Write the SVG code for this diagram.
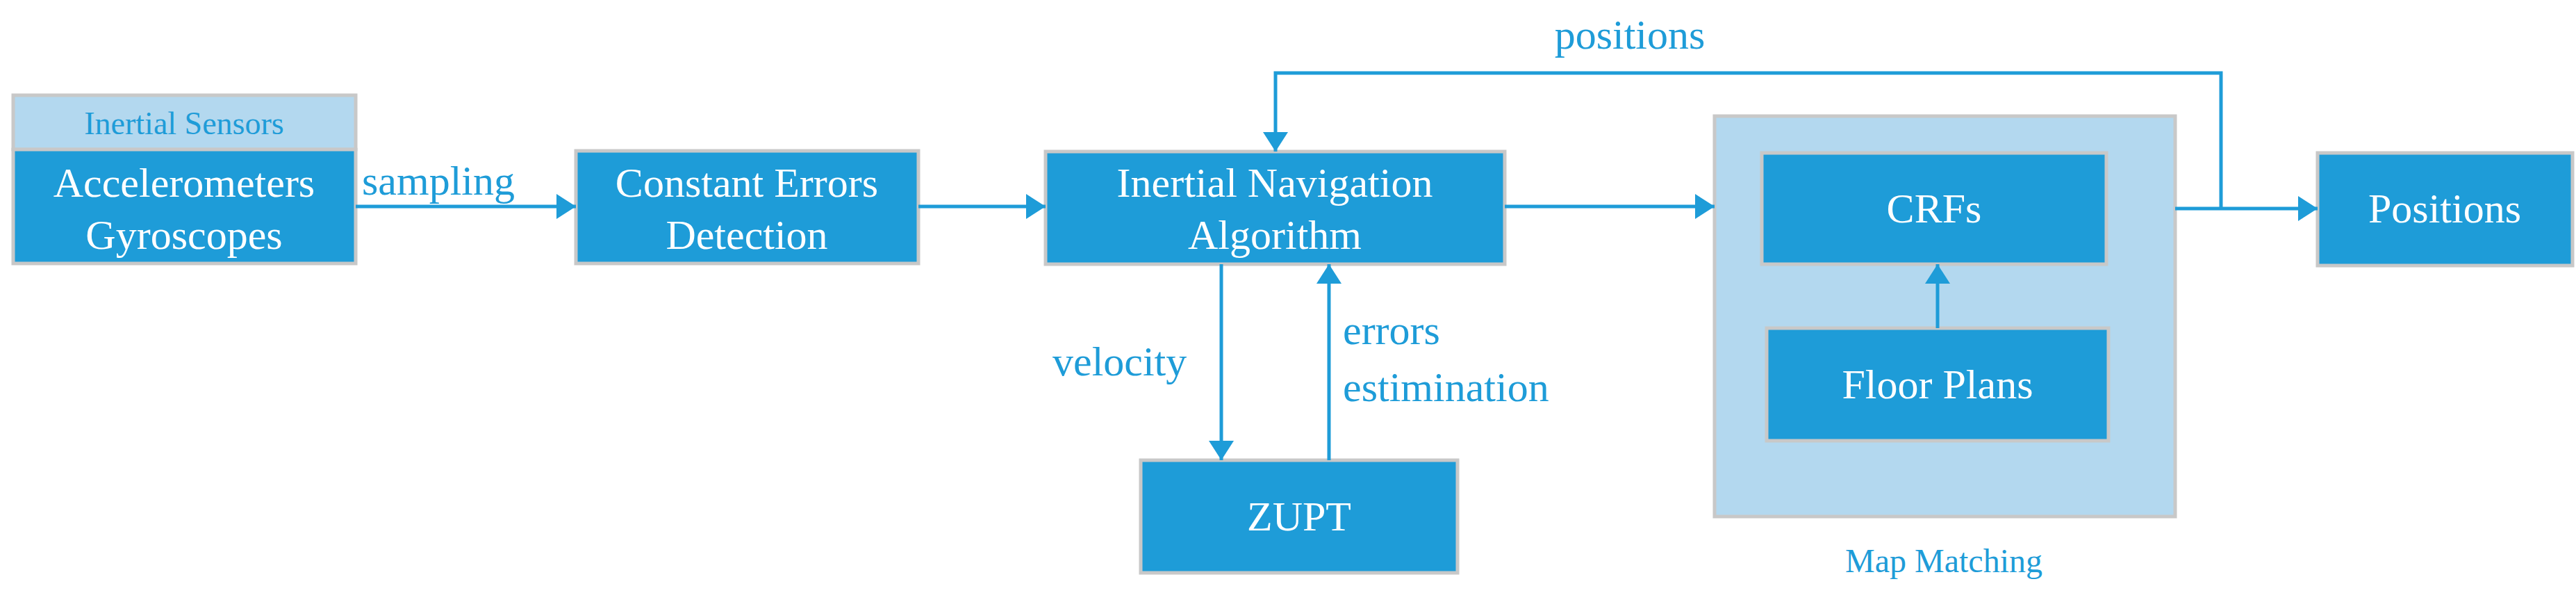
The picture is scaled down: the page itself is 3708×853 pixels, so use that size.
<svg xmlns="http://www.w3.org/2000/svg" width="3708" height="853" viewBox="0 0 3708 853">
<defs>
<style>
.b{fill:#1E9CD8;stroke:#C8C8C8;stroke-width:5}
.l{fill:#B3D8EF;stroke:#C8C8C8;stroke-width:5}
.t{font-family:"Liberation Serif",serif;font-size:60px;fill:#fff;text-anchor:middle}
.c{font-family:"Liberation Serif",serif;font-size:60px;fill:#1E9CD8}
.e{fill:none;stroke:#1E9CD8;stroke-width:5}
</style>
<marker id="a" markerWidth="10" markerHeight="10" refX="10" refY="5" orient="auto" markerUnits="userSpaceOnUse" viewBox="0 0 10 10"><path d="M0,0L10,5L0,10z" fill="#1E9CD8"/></marker>
<marker id="m" viewBox="0 0 10 10" refX="10" refY="5" markerWidth="28" markerHeight="36" orient="auto" markerUnits="userSpaceOnUse" preserveAspectRatio="none"><path d="M0,0L10,5L0,10z" fill="#1E9CD8"/></marker>
</defs>
<g id="sensors">
<rect class="l" x="19" y="137" width="493" height="78"/>
<text x="265" y="193" font-family="Liberation Serif,serif" font-size="46" fill="#1E9CD8" text-anchor="middle">Inertial Sensors</text>
<rect class="b" x="19" y="215" width="493" height="164"/>
<text class="t" x="265" y="283">Accelerometers</text>
<text class="t" x="265" y="358">Gyroscopes</text>
</g>
<g id="ced">
<rect class="b" x="829" y="217" width="493" height="162"/>
<text class="t" x="1075" y="283">Constant Errors</text>
<text class="t" x="1075" y="358">Detection</text>
</g>
<g id="ina">
<rect class="b" x="1505" y="218" width="661" height="162"/>
<text class="t" x="1835" y="283">Inertial Navigation</text>
<text class="t" x="1835" y="358">Algorithm</text>
</g>
<g id="zupt">
<rect class="b" x="1642" y="662" width="456" height="162"/>
<text class="t" x="1870" y="763">ZUPT</text>
</g>
<g id="mm">
<rect class="l" x="2468" y="167" width="663" height="576"/>
<text x="2798" y="823" font-family="Liberation Serif,serif" font-size="48" fill="#1E9CD8" text-anchor="middle">Map Matching</text>
</g>
<g id="crfs">
<rect class="b" x="2536" y="220" width="496" height="160"/>
<text class="t" x="2784" y="320">CRFs</text>
</g>
<g id="floor">
<rect class="b" x="2543" y="472" width="492" height="162"/>
<text class="t" x="2789" y="573">Floor Plans</text>
</g>
<g id="positions">
<rect class="b" x="3336" y="220" width="367" height="162"/>
<text class="t" x="3519" y="320">Positions</text>
</g>
<g id="connectors">
<path class="e" d="M512,297H829" marker-end="url(#m)"/>
<path class="e" d="M1322,297H1505" marker-end="url(#m)"/>
<path class="e" d="M2166,297H2468" marker-end="url(#m)"/>
<path class="e" d="M3131,300H3336" marker-end="url(#m)"/>
<path class="e" d="M3197,300V105H1836V218" marker-end="url(#m)"/>
<path class="e" d="M1758,380V662" marker-end="url(#m)"/>
<path class="e" d="M1913,662V380" marker-end="url(#m)"/>
<path class="e" d="M2789,472V380" marker-end="url(#m)"/>
<text class="c" x="521" y="280">sampling</text>
<text class="c" x="2346" y="70" text-anchor="middle">positions</text>
<text class="c" x="1515" y="540">velocity</text>
<text class="c" x="1933" y="495">errors</text>
<text class="c" x="1933" y="577">estimination</text>
</g>
</svg>
